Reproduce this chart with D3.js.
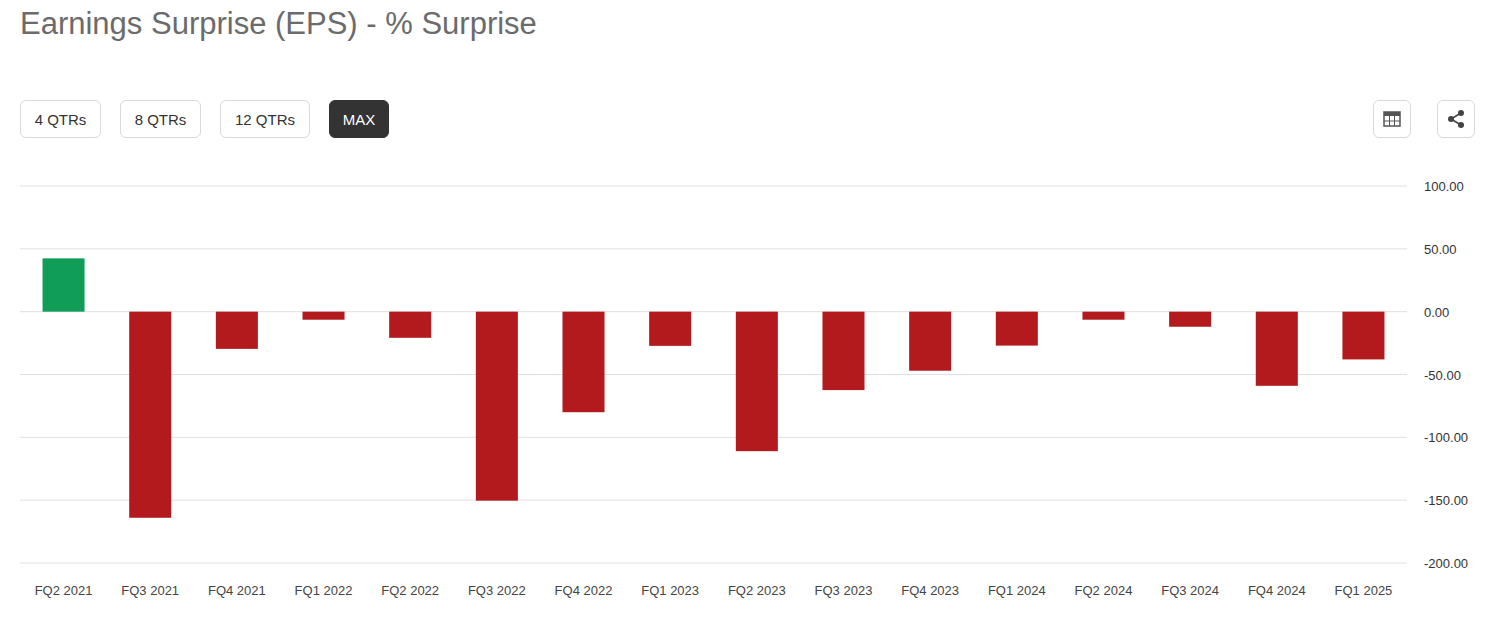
<!DOCTYPE html>
<html><head><meta charset="utf-8">
<script src="https://cdn.jsdelivr.net/npm/d3@7"></script>
<style>
body{margin:0;background:#fff;font-family:"Liberation Sans",Arial,sans-serif;}
.btn{position:absolute;top:100px;height:38px;box-sizing:border-box;border:1px solid #d9d9d9;border-radius:6px;font-size:15px;color:#333;display:flex;align-items:center;justify-content:center;background:#fff}
</style></head><body>
<div style="position:absolute;left:20px;top:6px;font-size:31px;color:#6b6b6b">Earnings Surprise (EPS) - % Surprise</div>
<div class="btn" style="left:20px;width:81px">4 QTRs</div>
<div class="btn" style="left:120px;width:81px">8 QTRs</div>
<div class="btn" style="left:220px;width:90px">12 QTRs</div>
<div class="btn" style="left:329px;width:60px;background:#333;color:#fff;border-color:#333">MAX</div>
<div class="btn" style="left:1373px;width:38px"><svg width="18" height="16"><rect x="1" y="1" width="16" height="14" fill="none" stroke="#555" stroke-width="1.5"/><rect x="1" y="1" width="16" height="4" fill="#555"/><line x1="1" y1="10" x2="17" y2="10" stroke="#555"/><line x1="6.5" y1="5" x2="6.5" y2="15" stroke="#555"/><line x1="11.5" y1="5" x2="11.5" y2="15" stroke="#555"/></svg></div>
<div class="btn" style="left:1437px;width:38px"><svg width="20" height="20"><line x1="5" y1="10" x2="15" y2="4" stroke="#444" stroke-width="1.5"/><line x1="5" y1="10" x2="15" y2="16" stroke="#444" stroke-width="1.5"/><circle cx="5" cy="10" r="3" fill="#444"/><circle cx="15" cy="4" r="3" fill="#444"/><circle cx="15" cy="16" r="3" fill="#444"/></svg></div>
<svg id="c" width="1489" height="620" style="position:absolute;left:0;top:0;pointer-events:none"></svg>
<script>
const categories=["FQ2 2021","FQ3 2021","FQ4 2021","FQ1 2022","FQ2 2022","FQ3 2022","FQ4 2022","FQ1 2023","FQ2 2023","FQ3 2023","FQ4 2023","FQ1 2024","FQ2 2024","FQ3 2024","FQ4 2024","FQ1 2025"];
const values=[42.4,-164,-29.6,-6.4,-20.8,-150.4,-80,-27.2,-111,-62.4,-47,-27,-6.4,-12,-59,-38];
const ticks=[100,50,0,-50,-100,-150,-200];
const svg=d3.select("#c");
const x=d3.scaleBand().domain(categories).range([20,1407]).paddingInner(0.515).paddingOuter(0.26);
const y=d3.scaleLinear().domain([-200,100]).range([563,186]);
svg.append("g").selectAll("line").data(ticks).join("line")
 .attr("x1",20).attr("x2",1407).attr("y1",d=>y(d)).attr("y2",d=>y(d)).attr("stroke","#e0e0e0");
svg.append("g").selectAll("text").data(ticks).join("text")
 .attr("x",1424).attr("y",d=>y(d)+5).attr("font-size",13).attr("fill","#333").text(d=>d.toFixed(2));
svg.append("g").selectAll("rect").data(values).join("rect")
 .attr("x",(d,i)=>x(categories[i])).attr("width",x.bandwidth())
 .attr("y",d=>y(Math.max(0,d))).attr("height",d=>Math.abs(y(d)-y(0)))
 .attr("fill",d=>d>=0?"#109d58":"#b31a1d");
svg.append("g").selectAll("text").data(categories).join("text")
 .attr("x",d=>x(d)+x.bandwidth()/2).attr("y",595).attr("text-anchor","middle")
 .attr("font-size",13).attr("fill","#444").text(d=>d);
</script></body></html>
